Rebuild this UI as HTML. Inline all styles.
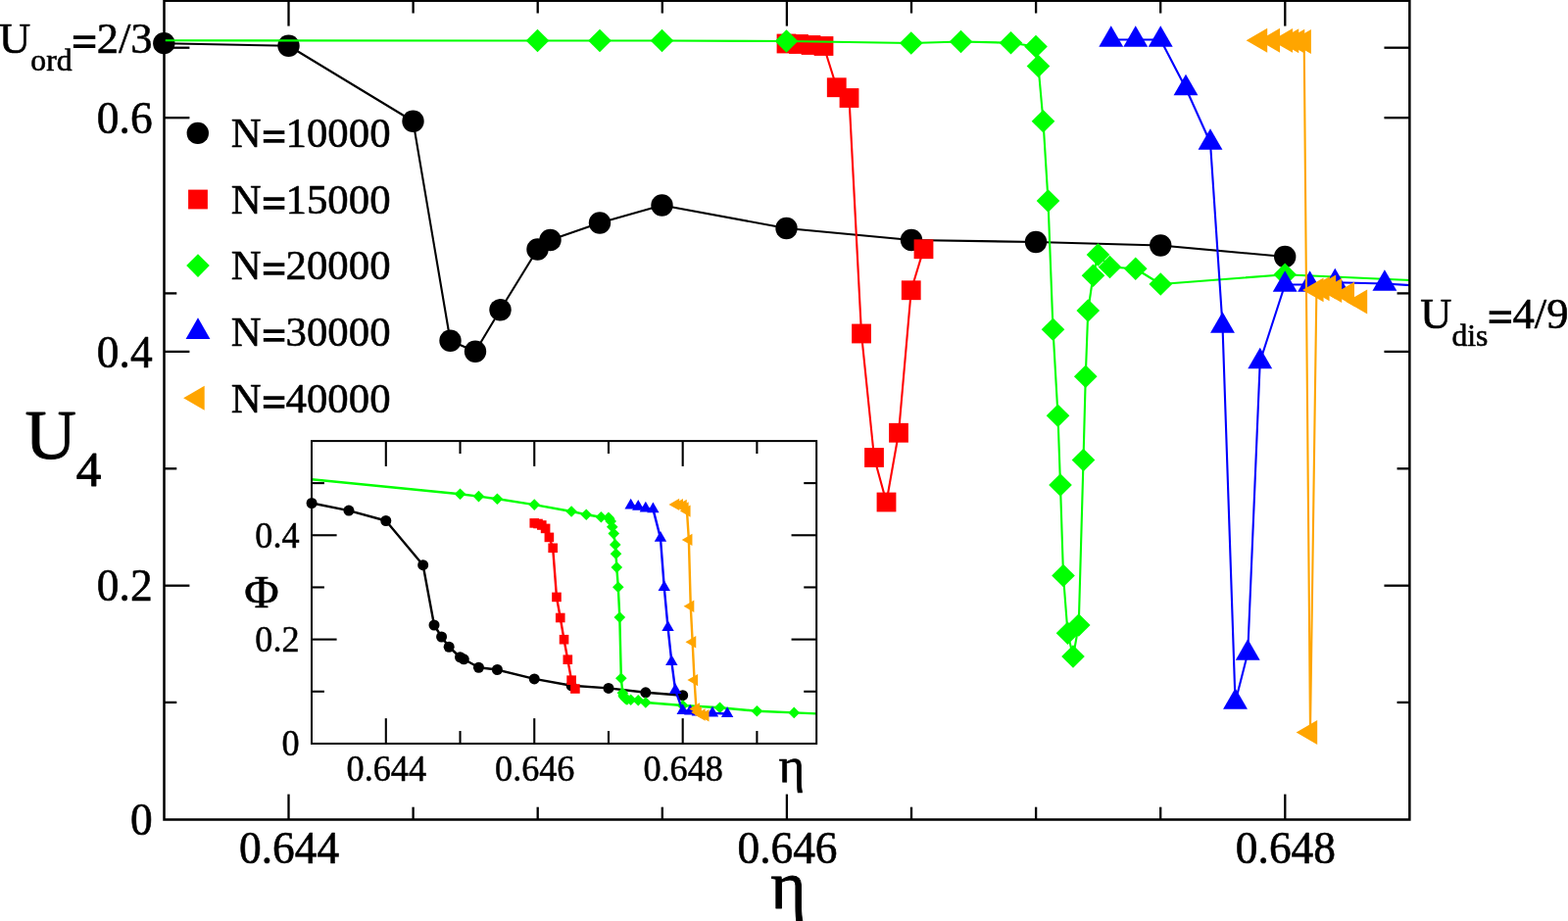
<!DOCTYPE html>
<html lang="en">
<head>
<meta charset="utf-8">
<title>Binder cumulant U4 versus noise amplitude</title>
<style>
html, body { margin: 0; padding: 0; background: #ffffff; }
body { width: 1600px; height: 940px; overflow: hidden; }
svg { display: block; }
</style>
</head>
<body>
<svg width="1600" height="940" viewBox="0 0 1600 940" role="img" aria-label="Binder cumulant U4 versus noise amplitude eta for several system sizes N, with inset showing order parameter Phi">
<defs>
<clipPath id="cm"><rect x="167.5" y="0" width="1270.85" height="836.5"/></clipPath>
<clipPath id="ci"><rect x="318" y="450.1" width="515.15" height="308.85"/></clipPath>
</defs>
<rect x="0" y="0" width="1600" height="940" fill="#ffffff"/>
<g id="main-data">
<polyline points="167.3,44.2 294.5,46.75 421.5,123.75 459.5,347.75 485,358.75 510.5,316.25 548.5,254.5 561.5,245 612,227.5 675.5,209.5 802.5,233 930,245 1057,247 1184.25,250.5 1311.2,262" fill="none" stroke="#000000" stroke-width="2.1" stroke-linejoin="round"/>
<circle cx="167.3" cy="44.2" r="11.2" fill="#000000"/>
<circle cx="294.5" cy="46.75" r="11.2" fill="#000000"/>
<circle cx="421.5" cy="123.75" r="11.2" fill="#000000"/>
<circle cx="459.5" cy="347.75" r="11.2" fill="#000000"/>
<circle cx="485" cy="358.75" r="11.2" fill="#000000"/>
<circle cx="510.5" cy="316.25" r="11.2" fill="#000000"/>
<circle cx="548.5" cy="254.5" r="11.2" fill="#000000"/>
<circle cx="561.5" cy="245" r="11.2" fill="#000000"/>
<circle cx="612" cy="227.5" r="11.2" fill="#000000"/>
<circle cx="675.5" cy="209.5" r="11.2" fill="#000000"/>
<circle cx="802.5" cy="233" r="11.2" fill="#000000"/>
<circle cx="930" cy="245" r="11.2" fill="#000000"/>
<circle cx="1057" cy="247" r="11.2" fill="#000000"/>
<circle cx="1184.25" cy="250.5" r="11.2" fill="#000000"/>
<circle cx="1311.2" cy="262" r="11.2" fill="#000000"/>
<polyline points="802.5,44.5 815,45 827.5,46 840.5,47 853.75,89.25 866.5,100 879,340.5 892,467 904.5,512.5 917,441.75 929.75,296.25 942.5,254.25" fill="none" stroke="#ff0000" stroke-width="2.1" stroke-linejoin="round"/>
<rect x="792.6" y="34.6" width="19.8" height="19.8" fill="#ff0000"/>
<rect x="805.1" y="35.1" width="19.8" height="19.8" fill="#ff0000"/>
<rect x="817.6" y="36.1" width="19.8" height="19.8" fill="#ff0000"/>
<rect x="830.6" y="37.1" width="19.8" height="19.8" fill="#ff0000"/>
<rect x="843.85" y="79.35" width="19.8" height="19.8" fill="#ff0000"/>
<rect x="856.6" y="90.1" width="19.8" height="19.8" fill="#ff0000"/>
<rect x="869.1" y="330.6" width="19.8" height="19.8" fill="#ff0000"/>
<rect x="882.1" y="457.1" width="19.8" height="19.8" fill="#ff0000"/>
<rect x="894.6" y="502.6" width="19.8" height="19.8" fill="#ff0000"/>
<rect x="907.1" y="431.85" width="19.8" height="19.8" fill="#ff0000"/>
<rect x="919.85" y="286.35" width="19.8" height="19.8" fill="#ff0000"/>
<rect x="932.6" y="244.35" width="19.8" height="19.8" fill="#ff0000"/>
<g clip-path="url(#cm)"><polyline points="167.5,41.3 548.5,41.5 612,41.5 675.5,41.5 802.5,42 929.75,44 980.5,42.5 1031.5,43.75 1057,47.5 1059.5,67.5 1064.5,123.75 1069.5,205 1074.5,336.25 1079.5,424.25 1082,495 1085,587.5 1089.5,646.25 1095,670 1100.75,638 1105.5,469.5 1107.75,384.25 1110.25,317 1115.5,281.25 1120.5,260 1132.5,272.5 1158.75,274.25 1184.25,290 1311.2,280.2 1439,286" fill="none" stroke="#00ff00" stroke-width="2.1" stroke-linejoin="round"/></g>
<polygon points="548.5,29.7 560.3,41.5 548.5,53.3 536.7,41.5" fill="#00ff00"/>
<polygon points="612,29.7 623.8,41.5 612,53.3 600.2,41.5" fill="#00ff00"/>
<polygon points="675.5,29.7 687.3,41.5 675.5,53.3 663.7,41.5" fill="#00ff00"/>
<polygon points="802.5,30.2 814.3,42 802.5,53.8 790.7,42" fill="#00ff00"/>
<polygon points="929.75,32.2 941.55,44 929.75,55.8 917.95,44" fill="#00ff00"/>
<polygon points="980.5,30.7 992.3,42.5 980.5,54.3 968.7,42.5" fill="#00ff00"/>
<polygon points="1031.5,31.95 1043.3,43.75 1031.5,55.55 1019.7,43.75" fill="#00ff00"/>
<polygon points="1057,35.7 1068.8,47.5 1057,59.3 1045.2,47.5" fill="#00ff00"/>
<polygon points="1059.5,55.7 1071.3,67.5 1059.5,79.3 1047.7,67.5" fill="#00ff00"/>
<polygon points="1064.5,111.95 1076.3,123.75 1064.5,135.55 1052.7,123.75" fill="#00ff00"/>
<polygon points="1069.5,193.2 1081.3,205 1069.5,216.8 1057.7,205" fill="#00ff00"/>
<polygon points="1074.5,324.45 1086.3,336.25 1074.5,348.05 1062.7,336.25" fill="#00ff00"/>
<polygon points="1079.5,412.45 1091.3,424.25 1079.5,436.05 1067.7,424.25" fill="#00ff00"/>
<polygon points="1082,483.2 1093.8,495 1082,506.8 1070.2,495" fill="#00ff00"/>
<polygon points="1085,575.7 1096.8,587.5 1085,599.3 1073.2,587.5" fill="#00ff00"/>
<polygon points="1089.5,634.45 1101.3,646.25 1089.5,658.05 1077.7,646.25" fill="#00ff00"/>
<polygon points="1095,658.2 1106.8,670 1095,681.8 1083.2,670" fill="#00ff00"/>
<polygon points="1100.75,626.2 1112.55,638 1100.75,649.8 1088.95,638" fill="#00ff00"/>
<polygon points="1105.5,457.7 1117.3,469.5 1105.5,481.3 1093.7,469.5" fill="#00ff00"/>
<polygon points="1107.75,372.45 1119.55,384.25 1107.75,396.05 1095.95,384.25" fill="#00ff00"/>
<polygon points="1110.25,305.2 1122.05,317 1110.25,328.8 1098.45,317" fill="#00ff00"/>
<polygon points="1115.5,269.45 1127.3,281.25 1115.5,293.05 1103.7,281.25" fill="#00ff00"/>
<polygon points="1120.5,248.2 1132.3,260 1120.5,271.8 1108.7,260" fill="#00ff00"/>
<polygon points="1132.5,260.7 1144.3,272.5 1132.5,284.3 1120.7,272.5" fill="#00ff00"/>
<polygon points="1158.75,262.45 1170.55,274.25 1158.75,286.05 1146.95,274.25" fill="#00ff00"/>
<polygon points="1184.25,278.2 1196.05,290 1184.25,301.8 1172.45,290" fill="#00ff00"/>
<polygon points="1311.2,268.4 1323,280.2 1311.2,292 1299.4,280.2" fill="#00ff00"/>
<g clip-path="url(#cm)"><polyline points="1133.75,40.5 1158.75,40.5 1184.25,40.5 1210,90 1235,145.5 1247.5,332.5 1260.5,716.5 1273.25,666.5 1285.75,369 1311.2,290.5 1336.6,290.5 1362.3,288.2 1412.9,289.5 1439,291.1" fill="none" stroke="#0000ff" stroke-width="2.1" stroke-linejoin="round"/></g>
<polygon points="1133.75,26.15 1146.18,47.67 1121.32,47.67" fill="#0000ff"/>
<polygon points="1158.75,26.15 1171.18,47.67 1146.32,47.67" fill="#0000ff"/>
<polygon points="1184.25,26.15 1196.68,47.67 1171.82,47.67" fill="#0000ff"/>
<polygon points="1210,75.65 1222.43,97.17 1197.57,97.17" fill="#0000ff"/>
<polygon points="1235,131.15 1247.43,152.68 1222.57,152.68" fill="#0000ff"/>
<polygon points="1247.5,318.15 1259.93,339.68 1235.07,339.68" fill="#0000ff"/>
<polygon points="1260.5,702.15 1272.93,723.67 1248.07,723.67" fill="#0000ff"/>
<polygon points="1273.25,652.15 1285.68,673.67 1260.82,673.67" fill="#0000ff"/>
<polygon points="1285.75,354.65 1298.18,376.18 1273.32,376.18" fill="#0000ff"/>
<polygon points="1311.2,276.15 1323.63,297.68 1298.77,297.68" fill="#0000ff"/>
<polygon points="1336.6,276.15 1349.03,297.68 1324.17,297.68" fill="#0000ff"/>
<polygon points="1362.3,273.85 1374.73,295.38 1349.87,295.38" fill="#0000ff"/>
<polygon points="1412.9,275.15 1425.33,296.68 1400.47,296.68" fill="#0000ff"/>
<polyline points="1286,41.2 1298.9,41.2 1311.8,41.4 1318.1,41.7 1324.1,42.1 1330.7,42.5 1337,747.5 1343.4,295.9 1349.4,294.7 1356,293 1362,296.5 1374.8,300.3 1388,308" fill="none" stroke="#ffa500" stroke-width="2.1" stroke-linejoin="round"/>
<polygon points="1271.65,41.2 1293.17,28.77 1293.17,53.63" fill="#ffa500"/>
<polygon points="1284.55,41.2 1306.08,28.77 1306.08,53.63" fill="#ffa500"/>
<polygon points="1297.45,41.4 1318.97,28.97 1318.97,53.83" fill="#ffa500"/>
<polygon points="1303.75,41.7 1325.27,29.27 1325.27,54.13" fill="#ffa500"/>
<polygon points="1309.75,42.1 1331.27,29.67 1331.27,54.53" fill="#ffa500"/>
<polygon points="1316.35,42.5 1337.88,30.07 1337.88,54.93" fill="#ffa500"/>
<polygon points="1322.65,747.5 1344.17,735.07 1344.17,759.93" fill="#ffa500"/>
<polygon points="1329.05,295.9 1350.58,283.47 1350.58,308.33" fill="#ffa500"/>
<polygon points="1335.05,294.7 1356.58,282.27 1356.58,307.13" fill="#ffa500"/>
<polygon points="1341.65,293 1363.17,280.57 1363.17,305.43" fill="#ffa500"/>
<polygon points="1347.65,296.5 1369.17,284.07 1369.17,308.93" fill="#ffa500"/>
<polygon points="1360.45,300.3 1381.97,287.87 1381.97,312.73" fill="#ffa500"/>
<polygon points="1373.65,308 1395.17,295.57 1395.17,320.43" fill="#ffa500"/>
</g>
<g id="main-axes">
<rect x="167.5" y="0.7" width="1270.85" height="835.8" fill="none" stroke="#000" stroke-width="2.5"/>
<line x1="294.5" y1="836.5" x2="294.5" y2="810.6" stroke="#000000" stroke-width="2.3"/>
<line x1="294.5" y1="0.7" x2="294.5" y2="26.6" stroke="#000000" stroke-width="2.3"/>
<line x1="421.6" y1="836.5" x2="421.6" y2="823.7" stroke="#000000" stroke-width="2.3"/>
<line x1="421.6" y1="0.7" x2="421.6" y2="13.5" stroke="#000000" stroke-width="2.3"/>
<line x1="548.7" y1="836.5" x2="548.7" y2="823.7" stroke="#000000" stroke-width="2.3"/>
<line x1="548.7" y1="0.7" x2="548.7" y2="13.5" stroke="#000000" stroke-width="2.3"/>
<line x1="675.8" y1="836.5" x2="675.8" y2="823.7" stroke="#000000" stroke-width="2.3"/>
<line x1="675.8" y1="0.7" x2="675.8" y2="13.5" stroke="#000000" stroke-width="2.3"/>
<line x1="802.9" y1="836.5" x2="802.9" y2="810.6" stroke="#000000" stroke-width="2.3"/>
<line x1="802.9" y1="0.7" x2="802.9" y2="26.6" stroke="#000000" stroke-width="2.3"/>
<line x1="930" y1="836.5" x2="930" y2="823.7" stroke="#000000" stroke-width="2.3"/>
<line x1="930" y1="0.7" x2="930" y2="13.5" stroke="#000000" stroke-width="2.3"/>
<line x1="1057.1" y1="836.5" x2="1057.1" y2="823.7" stroke="#000000" stroke-width="2.3"/>
<line x1="1057.1" y1="0.7" x2="1057.1" y2="13.5" stroke="#000000" stroke-width="2.3"/>
<line x1="1184.2" y1="836.5" x2="1184.2" y2="823.7" stroke="#000000" stroke-width="2.3"/>
<line x1="1184.2" y1="0.7" x2="1184.2" y2="13.5" stroke="#000000" stroke-width="2.3"/>
<line x1="1311.3" y1="836.5" x2="1311.3" y2="810.6" stroke="#000000" stroke-width="2.3"/>
<line x1="1311.3" y1="0.7" x2="1311.3" y2="26.6" stroke="#000000" stroke-width="2.3"/>
<line x1="167.5" y1="48.7" x2="193.4" y2="48.7" stroke="#000000" stroke-width="2.3"/>
<line x1="1438.35" y1="48.7" x2="1412.45" y2="48.7" stroke="#000000" stroke-width="2.3"/>
<line x1="167.5" y1="120.2" x2="193.4" y2="120.2" stroke="#000000" stroke-width="2.3"/>
<line x1="1438.35" y1="120.2" x2="1412.45" y2="120.2" stroke="#000000" stroke-width="2.3"/>
<line x1="167.5" y1="299.4" x2="180.3" y2="299.4" stroke="#000000" stroke-width="2.3"/>
<line x1="1438.35" y1="299.4" x2="1425.55" y2="299.4" stroke="#000000" stroke-width="2.3"/>
<line x1="167.5" y1="358.9" x2="193.4" y2="358.9" stroke="#000000" stroke-width="2.3"/>
<line x1="1438.35" y1="358.9" x2="1412.45" y2="358.9" stroke="#000000" stroke-width="2.3"/>
<line x1="167.5" y1="478.3" x2="180.3" y2="478.3" stroke="#000000" stroke-width="2.3"/>
<line x1="1438.35" y1="478.3" x2="1425.55" y2="478.3" stroke="#000000" stroke-width="2.3"/>
<line x1="167.5" y1="597.7" x2="193.4" y2="597.7" stroke="#000000" stroke-width="2.3"/>
<line x1="1438.35" y1="597.7" x2="1412.45" y2="597.7" stroke="#000000" stroke-width="2.3"/>
<line x1="167.5" y1="716.9" x2="180.3" y2="716.9" stroke="#000000" stroke-width="2.3"/>
<line x1="1438.35" y1="716.9" x2="1425.55" y2="716.9" stroke="#000000" stroke-width="2.3"/>
</g>
<g id="main-labels" font-family="'Liberation Serif', 'DejaVu Serif', serif" fill="#000">
<text transform="translate(155.6 135.9) scale(1 1.02)" font-size="45.4" text-anchor="end" stroke="#000" stroke-width="0.59" stroke-linejoin="round">0.6</text>
<text transform="translate(155.6 374.6) scale(1 1.02)" font-size="45.4" text-anchor="end" stroke="#000" stroke-width="0.59" stroke-linejoin="round">0.4</text>
<text transform="translate(155.6 613.4) scale(1 1.02)" font-size="45.4" text-anchor="end" stroke="#000" stroke-width="0.59" stroke-linejoin="round">0.2</text>
<text transform="translate(155.6 851.8) scale(1 1.02)" font-size="45.4" text-anchor="end" stroke="#000" stroke-width="0.59" stroke-linejoin="round">0</text>
<text transform="translate(295.1 880.6) scale(1 1.02)" font-size="45.4" text-anchor="middle" stroke="#000" stroke-width="0.59" stroke-linejoin="round">0.644</text>
<text transform="translate(803.5 880.6) scale(1 1.02)" font-size="45.4" text-anchor="middle" stroke="#000" stroke-width="0.59" stroke-linejoin="round">0.646</text>
<text transform="translate(1311.9 880.6) scale(1 1.02)" font-size="45.4" text-anchor="middle" stroke="#000" stroke-width="0.59" stroke-linejoin="round">0.648</text>
<text transform="translate(-0.9 54.1)" font-size="44.6" text-anchor="start" stroke="#000" stroke-width="0.58" stroke-linejoin="round">U<tspan font-size="31.67" dy="18.2">ord</tspan><tspan dy="-15.08" stroke-width="1.65" stroke-linejoin="miter">=</tspan><tspan dy="-3.12">2/3</tspan></text>
<text transform="translate(1449.2 335.3)" font-size="44.6" text-anchor="start" stroke="#000" stroke-width="0.58" stroke-linejoin="round">U<tspan font-size="31.67" dy="17.9">dis</tspan><tspan dy="-14.78" stroke-width="1.65" stroke-linejoin="miter">=</tspan><tspan dy="-3.12">4/9</tspan></text>
<text transform="translate(25.5 467.7)" font-size="72.5" text-anchor="start" stroke="#000" stroke-width="0.94" stroke-linejoin="round">U<tspan font-size="51" dy="28.3">4</tspan></text>
<text transform="translate(786.3 926.8)" font-size="69.5" text-anchor="start" stroke="#000" stroke-width="0.9" stroke-linejoin="round">η</text>
<text transform="translate(235.8 150.2)" font-size="42.8" text-anchor="start" stroke="#000" stroke-width="0.56" stroke-linejoin="round">N<tspan dy="3" dx="0.7" stroke-width="1.58" stroke-linejoin="miter">=</tspan><tspan dy="-3">10000</tspan></text>
<text transform="translate(235.8 217.8)" font-size="42.8" text-anchor="start" stroke="#000" stroke-width="0.56" stroke-linejoin="round">N<tspan dy="3" dx="0.7" stroke-width="1.58" stroke-linejoin="miter">=</tspan><tspan dy="-3">15000</tspan></text>
<text transform="translate(235.8 285.4)" font-size="42.8" text-anchor="start" stroke="#000" stroke-width="0.56" stroke-linejoin="round">N<tspan dy="3" dx="0.7" stroke-width="1.58" stroke-linejoin="miter">=</tspan><tspan dy="-3">20000</tspan></text>
<text transform="translate(235.8 353)" font-size="42.8" text-anchor="start" stroke="#000" stroke-width="0.56" stroke-linejoin="round">N<tspan dy="3" dx="0.7" stroke-width="1.58" stroke-linejoin="miter">=</tspan><tspan dy="-3">30000</tspan></text>
<text transform="translate(235.8 420.6)" font-size="42.8" text-anchor="start" stroke="#000" stroke-width="0.56" stroke-linejoin="round">N<tspan dy="3" dx="0.7" stroke-width="1.58" stroke-linejoin="miter">=</tspan><tspan dy="-3">40000</tspan></text>
</g>
<g id="legend-symbols">
<circle cx="201.8" cy="135.9" r="11.2" fill="#000000"/>
<rect x="192.1" y="193.6" width="19.8" height="19.8" fill="#ff0000"/>
<polygon points="202,259.3 213.8,271.1 202,282.9 190.2,271.1" fill="#00ff00"/>
<polygon points="202,324.35 214.43,345.88 189.57,345.88" fill="#0000ff"/>
<polygon points="187.15,406.3 208.68,393.87 208.68,418.73" fill="#ffa500"/>
</g>
<g id="inset-data">
<g clip-path="url(#ci)"><polyline points="318.08,513.5 355.94,521.1 393.8,531.5 431.66,576.7 443.02,638 450.59,650 458.16,660.25 469.52,670.75 473.31,672.8 488.45,681.25 507.38,683.5 545.24,692.9 583.1,699.8 620.96,702.4 658.82,706.8 696.68,709.7" fill="none" stroke="#000000" stroke-width="2.4" stroke-linejoin="round"/></g>
<circle cx="318.08" cy="513.5" r="5.5" fill="#000000"/>
<circle cx="355.94" cy="521.1" r="5.5" fill="#000000"/>
<circle cx="393.8" cy="531.5" r="5.5" fill="#000000"/>
<circle cx="431.66" cy="576.7" r="5.5" fill="#000000"/>
<circle cx="443.02" cy="638" r="5.5" fill="#000000"/>
<circle cx="450.59" cy="650" r="5.5" fill="#000000"/>
<circle cx="458.16" cy="660.25" r="5.5" fill="#000000"/>
<circle cx="469.52" cy="670.75" r="5.5" fill="#000000"/>
<circle cx="473.31" cy="672.8" r="5.5" fill="#000000"/>
<circle cx="488.45" cy="681.25" r="5.5" fill="#000000"/>
<circle cx="507.38" cy="683.5" r="5.5" fill="#000000"/>
<circle cx="545.24" cy="692.9" r="5.5" fill="#000000"/>
<circle cx="583.1" cy="699.8" r="5.5" fill="#000000"/>
<circle cx="620.96" cy="702.4" r="5.5" fill="#000000"/>
<circle cx="658.82" cy="706.8" r="5.5" fill="#000000"/>
<circle cx="696.68" cy="709.7" r="5.5" fill="#000000"/>
<g clip-path="url(#ci)"><polyline points="545.24,533.9 549.03,534.5 552.81,536 556.6,539.4 560.38,548.4 564.17,559.3 567.96,609.4 571.74,630.5 575.53,652.7 579.31,673.2 583.1,694.2 586.89,703" fill="none" stroke="#ff0000" stroke-width="2.4" stroke-linejoin="round"/></g>
<rect x="540.44" y="529.1" width="9.6" height="9.6" fill="#ff0000"/>
<rect x="544.23" y="529.7" width="9.6" height="9.6" fill="#ff0000"/>
<rect x="548.01" y="531.2" width="9.6" height="9.6" fill="#ff0000"/>
<rect x="551.8" y="534.6" width="9.6" height="9.6" fill="#ff0000"/>
<rect x="555.58" y="543.6" width="9.6" height="9.6" fill="#ff0000"/>
<rect x="559.37" y="554.5" width="9.6" height="9.6" fill="#ff0000"/>
<rect x="563.16" y="604.6" width="9.6" height="9.6" fill="#ff0000"/>
<rect x="566.94" y="625.7" width="9.6" height="9.6" fill="#ff0000"/>
<rect x="570.73" y="647.9" width="9.6" height="9.6" fill="#ff0000"/>
<rect x="574.51" y="668.4" width="9.6" height="9.6" fill="#ff0000"/>
<rect x="578.3" y="689.4" width="9.6" height="9.6" fill="#ff0000"/>
<rect x="582.09" y="698.2" width="9.6" height="9.6" fill="#ff0000"/>
<g clip-path="url(#ci)"><polyline points="318,489.2 469.52,504.3 488.45,506.6 507.38,509.2 545.24,515.1 583.1,522 598.24,525.2 613.39,527.7 620.96,528.3 621.72,529.5 623.23,532 624.75,537.7 626.26,544.6 627.77,555.9 628.53,565.3 629.29,579.1 630.8,599.2 632.32,630.1 633.83,692.3 635.35,707.2 636.1,710 636.86,711.5 638.38,713.3 639.89,714 643.68,714.3 651.25,714.7 658.82,717 696.68,720 734.54,722.3 772.4,725.7 810.26,727.4 833.15,728.4" fill="none" stroke="#00ff00" stroke-width="2.4" stroke-linejoin="round"/></g>
<polygon points="469.52,498.5 475.32,504.3 469.52,510.1 463.72,504.3" fill="#00ff00"/>
<polygon points="488.45,500.8 494.25,506.6 488.45,512.4 482.65,506.6" fill="#00ff00"/>
<polygon points="507.38,503.4 513.18,509.2 507.38,515 501.58,509.2" fill="#00ff00"/>
<polygon points="545.24,509.3 551.04,515.1 545.24,520.9 539.44,515.1" fill="#00ff00"/>
<polygon points="583.1,516.2 588.9,522 583.1,527.8 577.3,522" fill="#00ff00"/>
<polygon points="598.24,519.4 604.04,525.2 598.24,531 592.44,525.2" fill="#00ff00"/>
<polygon points="613.39,521.9 619.19,527.7 613.39,533.5 607.59,527.7" fill="#00ff00"/>
<polygon points="620.96,522.5 626.76,528.3 620.96,534.1 615.16,528.3" fill="#00ff00"/>
<polygon points="621.72,523.7 627.52,529.5 621.72,535.3 615.92,529.5" fill="#00ff00"/>
<polygon points="623.23,526.2 629.03,532 623.23,537.8 617.43,532" fill="#00ff00"/>
<polygon points="624.75,531.9 630.55,537.7 624.75,543.5 618.95,537.7" fill="#00ff00"/>
<polygon points="626.26,538.8 632.06,544.6 626.26,550.4 620.46,544.6" fill="#00ff00"/>
<polygon points="627.77,550.1 633.57,555.9 627.77,561.7 621.97,555.9" fill="#00ff00"/>
<polygon points="628.53,559.5 634.33,565.3 628.53,571.1 622.73,565.3" fill="#00ff00"/>
<polygon points="629.29,573.3 635.09,579.1 629.29,584.9 623.49,579.1" fill="#00ff00"/>
<polygon points="630.8,593.4 636.6,599.2 630.8,605 625,599.2" fill="#00ff00"/>
<polygon points="632.32,624.3 638.12,630.1 632.32,635.9 626.52,630.1" fill="#00ff00"/>
<polygon points="633.83,686.5 639.63,692.3 633.83,698.1 628.03,692.3" fill="#00ff00"/>
<polygon points="635.35,701.4 641.15,707.2 635.35,713 629.55,707.2" fill="#00ff00"/>
<polygon points="636.1,704.2 641.9,710 636.1,715.8 630.3,710" fill="#00ff00"/>
<polygon points="636.86,705.7 642.66,711.5 636.86,717.3 631.06,711.5" fill="#00ff00"/>
<polygon points="638.38,707.5 644.18,713.3 638.38,719.1 632.58,713.3" fill="#00ff00"/>
<polygon points="639.89,708.2 645.69,714 639.89,719.8 634.09,714" fill="#00ff00"/>
<polygon points="643.68,708.5 649.48,714.3 643.68,720.1 637.88,714.3" fill="#00ff00"/>
<polygon points="651.25,708.9 657.05,714.7 651.25,720.5 645.45,714.7" fill="#00ff00"/>
<polygon points="658.82,711.2 664.62,717 658.82,722.8 653.02,717" fill="#00ff00"/>
<polygon points="696.68,714.2 702.48,720 696.68,725.8 690.88,720" fill="#00ff00"/>
<polygon points="734.54,716.5 740.34,722.3 734.54,728.1 728.74,722.3" fill="#00ff00"/>
<polygon points="772.4,719.9 778.2,725.7 772.4,731.5 766.6,725.7" fill="#00ff00"/>
<polygon points="810.26,721.6 816.06,727.4 810.26,733.2 804.46,727.4" fill="#00ff00"/>
<g clip-path="url(#ci)"><polyline points="643.68,515.8 651.25,517.1 658.82,519 666.39,519.6 673.96,549.1 677.75,599.3 681.54,640.3 685.32,675.4 689.11,704.3 696.68,725.3 704.25,726 711.82,727 726.97,727.9 742.11,728.5" fill="none" stroke="#0000ff" stroke-width="2.4" stroke-linejoin="round"/></g>
<polygon points="643.68,508.65 649.87,519.38 637.48,519.38" fill="#0000ff"/>
<polygon points="651.25,509.95 657.44,520.68 645.06,520.68" fill="#0000ff"/>
<polygon points="658.82,511.85 665.01,522.58 652.63,522.58" fill="#0000ff"/>
<polygon points="666.39,512.45 672.58,523.18 660.2,523.18" fill="#0000ff"/>
<polygon points="673.96,541.95 680.16,552.68 667.77,552.68" fill="#0000ff"/>
<polygon points="677.75,592.15 683.94,602.88 671.56,602.88" fill="#0000ff"/>
<polygon points="681.54,633.15 687.73,643.88 675.34,643.88" fill="#0000ff"/>
<polygon points="685.32,668.25 691.51,678.98 679.13,678.98" fill="#0000ff"/>
<polygon points="689.11,697.15 695.3,707.88 682.92,707.88" fill="#0000ff"/>
<polygon points="696.68,718.15 702.87,728.88 690.49,728.88" fill="#0000ff"/>
<polygon points="704.25,718.85 710.44,729.58 698.06,729.58" fill="#0000ff"/>
<polygon points="711.82,719.85 718.02,730.58 705.63,730.58" fill="#0000ff"/>
<polygon points="726.97,720.75 733.16,731.48 720.78,731.48" fill="#0000ff"/>
<polygon points="742.11,721.35 748.3,732.08 735.92,732.08" fill="#0000ff"/>
<g clip-path="url(#ci)"><polyline points="689.61,514.9 693.39,515.3 697.18,516 699.07,518.5 700.97,521.6 702.86,550.9 704.75,618.8 706.64,655.3 708.54,694.1 710.43,723.5 712.32,727 716.11,729.5 719.9,730.2" fill="none" stroke="#ffa500" stroke-width="2.4" stroke-linejoin="round"/></g>
<polygon points="682.46,514.9 693.18,508.71 693.18,521.09" fill="#ffa500"/>
<polygon points="686.24,515.3 696.97,509.11 696.97,521.49" fill="#ffa500"/>
<polygon points="690.03,516 700.76,509.81 700.76,522.19" fill="#ffa500"/>
<polygon points="691.92,518.5 702.65,512.31 702.65,524.69" fill="#ffa500"/>
<polygon points="693.82,521.6 704.54,515.41 704.54,527.79" fill="#ffa500"/>
<polygon points="695.71,550.9 706.43,544.71 706.43,557.09" fill="#ffa500"/>
<polygon points="697.6,618.8 708.33,612.61 708.33,624.99" fill="#ffa500"/>
<polygon points="699.49,655.3 710.22,649.11 710.22,661.49" fill="#ffa500"/>
<polygon points="701.39,694.1 712.11,687.91 712.11,700.29" fill="#ffa500"/>
<polygon points="703.28,723.5 714.01,717.31 714.01,729.69" fill="#ffa500"/>
<polygon points="705.17,727 715.9,720.81 715.9,733.19" fill="#ffa500"/>
<polygon points="708.96,729.5 719.68,723.31 719.68,735.69" fill="#ffa500"/>
<polygon points="712.75,730.2 723.47,724.01 723.47,736.39" fill="#ffa500"/>
</g>
<g id="inset-axes">
<rect x="318" y="450.1" width="515.15" height="308.85" fill="none" stroke="#000" stroke-width="2"/>
<line x1="393.8" y1="758.95" x2="393.8" y2="733.15" stroke="#000000" stroke-width="2.1"/>
<line x1="393.8" y1="450.1" x2="393.8" y2="475.9" stroke="#000000" stroke-width="2.1"/>
<line x1="469.52" y1="758.95" x2="469.52" y2="746.05" stroke="#000000" stroke-width="2.1"/>
<line x1="469.52" y1="450.1" x2="469.52" y2="463" stroke="#000000" stroke-width="2.1"/>
<line x1="545.24" y1="758.95" x2="545.24" y2="733.15" stroke="#000000" stroke-width="2.1"/>
<line x1="545.24" y1="450.1" x2="545.24" y2="475.9" stroke="#000000" stroke-width="2.1"/>
<line x1="620.96" y1="758.95" x2="620.96" y2="746.05" stroke="#000000" stroke-width="2.1"/>
<line x1="620.96" y1="450.1" x2="620.96" y2="463" stroke="#000000" stroke-width="2.1"/>
<line x1="696.68" y1="758.95" x2="696.68" y2="733.15" stroke="#000000" stroke-width="2.1"/>
<line x1="696.68" y1="450.1" x2="696.68" y2="475.9" stroke="#000000" stroke-width="2.1"/>
<line x1="772.4" y1="758.95" x2="772.4" y2="746.05" stroke="#000000" stroke-width="2.1"/>
<line x1="772.4" y1="450.1" x2="772.4" y2="463" stroke="#000000" stroke-width="2.1"/>
<line x1="318" y1="705.78" x2="330.9" y2="705.78" stroke="#000000" stroke-width="2.1"/>
<line x1="833.15" y1="705.78" x2="820.25" y2="705.78" stroke="#000000" stroke-width="2.1"/>
<line x1="318" y1="652.61" x2="343.6" y2="652.61" stroke="#000000" stroke-width="2.1"/>
<line x1="833.15" y1="652.61" x2="807.55" y2="652.61" stroke="#000000" stroke-width="2.1"/>
<line x1="318" y1="599.44" x2="330.9" y2="599.44" stroke="#000000" stroke-width="2.1"/>
<line x1="833.15" y1="599.44" x2="820.25" y2="599.44" stroke="#000000" stroke-width="2.1"/>
<line x1="318" y1="546.27" x2="343.6" y2="546.27" stroke="#000000" stroke-width="2.1"/>
<line x1="833.15" y1="546.27" x2="807.55" y2="546.27" stroke="#000000" stroke-width="2.1"/>
<line x1="318" y1="493.1" x2="330.9" y2="493.1" stroke="#000000" stroke-width="2.1"/>
<line x1="833.15" y1="493.1" x2="820.25" y2="493.1" stroke="#000000" stroke-width="2.1"/>
</g>
<g id="inset-labels" font-family="'Liberation Serif', 'DejaVu Serif', serif" fill="#000">
<text transform="translate(305.6 558.6) scale(1 1.02)" font-size="36.2" text-anchor="end" stroke="#000" stroke-width="0.47" stroke-linejoin="round">0.4</text>
<text transform="translate(305.6 664.95) scale(1 1.02)" font-size="36.2" text-anchor="end" stroke="#000" stroke-width="0.47" stroke-linejoin="round">0.2</text>
<text transform="translate(305.6 771.3) scale(1 1.02)" font-size="36.2" text-anchor="end" stroke="#000" stroke-width="0.47" stroke-linejoin="round">0</text>
<text transform="translate(394.3 797.3) scale(1 1.02)" font-size="36.2" text-anchor="middle" stroke="#000" stroke-width="0.47" stroke-linejoin="round">0.644</text>
<text transform="translate(545.74 797.3) scale(1 1.02)" font-size="36.2" text-anchor="middle" stroke="#000" stroke-width="0.47" stroke-linejoin="round">0.646</text>
<text transform="translate(697.18 797.3) scale(1 1.02)" font-size="36.2" text-anchor="middle" stroke="#000" stroke-width="0.47" stroke-linejoin="round">0.648</text>
<text transform="translate(794.6 797.9)" font-size="51" text-anchor="start" stroke="#000" stroke-width="0.66" stroke-linejoin="round">η</text>
<text transform="translate(249.3 619.9) scale(1 0.95)" font-size="48.4" text-anchor="start" stroke="#000" stroke-width="0.63" stroke-linejoin="round">Φ</text>
</g>
</svg>
</body>
</html>
